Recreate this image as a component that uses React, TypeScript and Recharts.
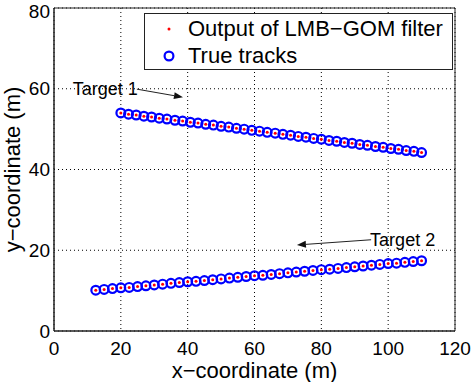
import {
  ScatterChart,
  Scatter,
  XAxis,
  YAxis,
  CartesianGrid,
  Legend,
  ReferenceLine,
  ReferenceArea,
} from 'recharts';

const FONT = '"Liberation Sans", Arial, Helvetica, sans-serif';

// track of target 1 (x, y in metres)
const target1X = [
  20.0, 22.3, 24.6, 26.9, 29.2, 31.5, 33.8, 36.2, 38.5, 40.8,
  43.1, 45.4, 47.7, 50.0, 52.3, 54.6, 56.9, 59.2, 61.5, 63.8,
  66.2, 68.5, 70.8, 73.1, 75.4, 77.7, 80.0, 82.3, 84.6, 86.9,
  89.2, 91.5, 93.8, 96.2, 98.5, 100.8, 103.1, 105.4, 107.7, 110.0,
];
const target1Y = [
  54.0, 53.7, 53.5, 53.2, 53.0, 52.7, 52.5, 52.2, 52.0, 51.7,
  51.5, 51.2, 51.0, 50.7, 50.5, 50.2, 50.0, 49.7, 49.5, 49.2,
  49.0, 48.7, 48.5, 48.2, 48.0, 47.7, 47.5, 47.2, 47.0, 46.7,
  46.5, 46.2, 46.0, 45.7, 45.5, 45.2, 45.0, 44.7, 44.5, 44.2,
];

// track of target 2
const target2X = [
  12.5, 15.0, 17.5, 20.0, 22.5, 25.0, 27.5, 30.0, 32.5, 35.0,
  37.5, 40.0, 42.5, 45.0, 47.5, 50.0, 52.5, 55.0, 57.5, 60.0,
  62.5, 65.0, 67.5, 70.0, 72.5, 75.0, 77.5, 80.0, 82.5, 85.0,
  87.5, 90.0, 92.5, 95.0, 97.5, 100.0, 102.5, 105.0, 107.5, 110.0,
];
const target2Y = [
  10.1, 10.3, 10.5, 10.7, 10.8, 11.0, 11.2, 11.4, 11.6, 11.8,
  12.0, 12.2, 12.3, 12.5, 12.7, 12.9, 13.1, 13.3, 13.5, 13.7,
  13.8, 14.0, 14.2, 14.4, 14.6, 14.8, 15.0, 15.2, 15.3, 15.5,
  15.7, 15.9, 16.1, 16.3, 16.5, 16.7, 16.8, 17.0, 17.2, 17.4,
];

const xTicks = [0, 20, 40, 60, 80, 100, 120];
const yTicks = [0, 20, 40, 60, 80];

// annotation arrows: text, arrow start, arrow tip (data units)
const annotations = [
  { text: 'Target 1', from: { x: 24.8, y: 59.9 }, to: { x: 38.6, y: 57.9 }, side: 'left' },
  { text: 'Target 2', from: { x: 94.9, y: 22.6 }, to: { x: 72.7, y: 21.3 }, side: 'right' },
];

const toPoints = (xs: number[], ys: number[]) => xs.map((x, i) => ({ x, y: ys[i] }));

const trueTracks = [...toPoints(target1X, target1Y), ...toPoints(target2X, target2Y)];
const filterOutput = [...toPoints(target1X, target1Y), ...toPoints(target2X, target2Y)];

const BlueCircle = (props: any) => (
  <circle cx={props.cx} cy={props.cy} r={4.4} fill="none" stroke="#0000ff" strokeWidth={2.2} />
);

const RedDot = (props: any) => <circle cx={props.cx} cy={props.cy} r={1.5} fill="#ff0000" />;

function makeArrow(text: string, side: string) {
  return (p: any) => {
    const { x1, y1, x2, y2 } = p;
    const a = Math.atan2(y2 - y1, x2 - x1);
    const L = 9;
    const W = 3.5;
    const bx = x2 - L * Math.cos(a);
    const by = y2 - L * Math.sin(a);
    const px = -Math.sin(a) * W;
    const py = Math.cos(a) * W;
    return (
      <g>
        <line x1={x1} y1={y1} x2={bx} y2={by} stroke="#222" strokeWidth={1} />
        <polygon points={`${x2},${y2} ${bx + px},${by + py} ${bx - px},${by - py}`} fill="#111" />
        <text
          x={side === 'left' ? x1 + 1 : x1 - 1}
          y={y1}
          dy="0.35em"
          textAnchor={side === 'left' ? 'end' : 'start'}
          fontSize={18}
          fontFamily={FONT}
          fill="#000"
        >
          {text}
        </text>
      </g>
    );
  };
}

const LegendBox = () => (
  <div
    style={{
      position: 'relative',
      width: 307,
      height: 55,
      border: '1px solid #222',
      background: '#fff',
      fontFamily: FONT,
      fontSize: 22,
      color: '#000',
    }}
  >
    <svg width={20} height={55} style={{ position: 'absolute', left: 14, top: 0 }}>
      <circle cx={10} cy={15} r={1.5} fill="#ff0000" />
      <circle cx={10} cy={42} r={4.4} fill="none" stroke="#0000ff" strokeWidth={2.2} />
    </svg>
    <div style={{ position: 'absolute', left: 43, top: 15, transform: 'translateY(-50%)', whiteSpace: 'nowrap' }}>
      Output of LMB−GOM filter
    </div>
    <div style={{ position: 'absolute', left: 43, top: 42, transform: 'translateY(-50%)', whiteSpace: 'nowrap' }}>
      True tracks
    </div>
  </div>
);

export default function App() {
  return (
    <div style={{ position: 'absolute', left: 0, top: 0, background: '#fff' }}>
      <ScatterChart
        width={474}
        height={382}
        margin={{ top: 8, right: 19, bottom: 0, left: 0 }}
        style={{ fontFamily: FONT }}
      >
        <CartesianGrid stroke="#000" strokeDasharray="1 3" strokeWidth={1} />
        <XAxis
          type="number"
          dataKey="x"
          domain={[0, 120]}
          ticks={xTicks}
          allowDataOverflow
          height={51}
          axisLine={{ stroke: '#222' }}
          tickLine={false}
          tickSize={6}
          tickMargin={5}
          tick={{ fill: '#000', fontSize: 19, fontFamily: FONT }}
          label={{
            content: (lp: any) => {
              const vb = lp.viewBox;
              return (
                <text
                  x={vb.x + vb.width / 2}
                  y={vb.y + 47}
                  textAnchor="middle"
                  fontSize={22}
                  fontFamily={FONT}
                  fill="#000"
                >
                  x−coordinate (m)
                </text>
              );
            },
          }}
        />
        <YAxis
          type="number"
          dataKey="y"
          domain={[0, 80]}
          ticks={yTicks}
          allowDataOverflow
          width={54}
          axisLine={{ stroke: '#222' }}
          tickLine={false}
          tickSize={2}
          tickMargin={2}
          tick={{ fill: '#000', fontSize: 19, fontFamily: FONT }}
          label={{
            content: (lp: any) => {
              const vb = lp.viewBox;
              const cx = vb.x + 20;
              const cy = vb.y + vb.height / 2;
              return (
                <text
                  x={cx}
                  y={cy}
                  textAnchor="middle"
                  transform={`rotate(-90, ${cx}, ${cy})`}
                  fontSize={22}
                  fontFamily={FONT}
                  fill="#000"
                >
                  y−coordinate (m)
                </text>
              );
            },
          }}
        />
        <ReferenceArea x1={0} x2={120} y1={0} y2={80} fill="none" stroke="#222" strokeWidth={1} ifOverflow="visible" />
        <Legend
          layout="horizontal"
          verticalAlign="middle"
          align="center"
          content={() => <LegendBox />}
          wrapperStyle={{ position: 'absolute', left: 144, top: 13, width: 'auto' }}
        />
        <Scatter
          name="True tracks"
          data={trueTracks}
          shape={BlueCircle}
          isAnimationActive={false}
        />
        <Scatter
          name="Output of LMB-GOM filter"
          data={filterOutput}
          shape={RedDot}
          isAnimationActive={false}
        />
        {annotations.map((a) => (
          <ReferenceLine
            key={a.text}
            segment={[a.from, a.to]}
            ifOverflow="visible"
            shape={makeArrow(a.text, a.side)}
          />
        ))}
      </ScatterChart>
    </div>
  );
}
